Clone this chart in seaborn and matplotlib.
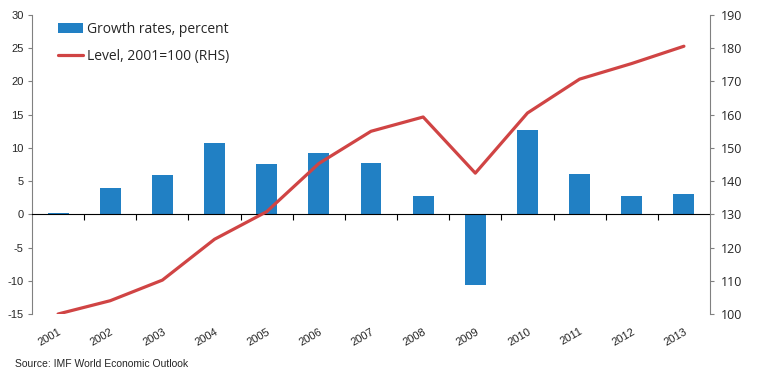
import numpy as np
import pandas as pd
import matplotlib
matplotlib.use("Agg")
import matplotlib.pyplot as plt
import seaborn as sns

years = ["2001", "2002", "2003", "2004", "2005", "2006", "2007",
         "2008", "2009", "2010", "2011", "2012", "2013"]
growth = [0.2, 3.9, 5.9, 10.8, 7.5, 9.3, 7.8, 2.8, -10.6, 12.7, 6.1, 2.8, 3.0]
level = [100, 104, 110.2, 122.5, 130.8, 145.3, 155, 159.3, 142.4, 160.5, 170.7, 175.4, 180.6]

df = pd.DataFrame({"Year": years, "Growth": growth, "Level": level,
                   "pos": np.arange(len(years))})

sns.set_style("white")
plt.rcParams["font.family"] = ["Liberation Sans", "DejaVu Sans"]
plt.rcParams["axes.unicode_minus"] = False

blue = "#2180C4"
red = "#D04444"

fig = plt.figure(figsize=(7.57, 3.83), dpi=100)
ax = fig.add_axes([32 / 757, 1 - 314 / 383, (710 - 32) / 757, 299 / 383])

sns.barplot(data=df, x="pos", y="Growth", color=blue, width=0.4,
            saturation=1, linewidth=0, ax=ax, label="Growth rates, percent")
ax.set_xlim(-0.5, len(years) - 0.5)
ax.set_ylim(-15, 30)
ax.set_yticks(range(-15, 31, 5))
ax.set_xticks(df["pos"])
ax.set_xticklabels(years, rotation=30, fontsize=8, ha="right",
                   rotation_mode="anchor")
ax.tick_params(axis="x", length=0, pad=9)
ax.tick_params(axis="y", direction="out", length=3, labelsize=8,
               color="#808080", left=True, pad=3)
ax.set_xlabel("")
ax.set_ylabel("")
for s in ["top", "bottom", "right"]:
    ax.spines[s].set_visible(False)
ax.spines["left"].set_color("#808080")

# zero line with ticks between categories
zero = ax.secondary_xaxis(15 / 45)
zero.set_xticks(np.arange(len(years) - 1) + 0.5)
zero.tick_params(direction="out", length=4, labelbottom=False, color="black")
zero.set_xticklabels([])
zero.spines["bottom"].set_color("black")
zero.set_zorder(5)

ax2 = ax.twinx()
sns.lineplot(data=df, x="pos", y="Level", color=red, linewidth=2.3,
             ax=ax2, label="Level, 2001=100 (RHS)")
ax2.set_ylim(100, 190)
ax2.set_yticks(range(100, 191, 10))
ax2.tick_params(axis="y", direction="out", length=3, labelsize=9,
                color="#808080", right=True, pad=5)
for lab in ax2.get_yticklabels():
    lab.set_fontfamily("Open Sans")
ax2.set_ylabel("")
for s in ["top", "bottom", "left"]:
    ax2.spines[s].set_visible(False)
ax2.spines["right"].set_color("#808080")

h1, l1 = ax.get_legend_handles_labels()
h2, l2 = ax2.get_legend_handles_labels()
if ax.get_legend():
    ax.get_legend().remove()
leg = ax2.legend(h1 + h2, l1 + l2, loc="upper left", bbox_to_anchor=(0.02, 1.02),
                 frameon=False, handlelength=1.8, handletextpad=0.25,
                 labelspacing=0.9, prop={"family": "Open Sans", "size": 10})

fig.text(15 / 757, 1 - 364 / 383, "Source: IMF World Economic Outlook",
         fontsize=7.5, va="center", ha="left")

fig.savefig("out.png", dpi=100)
